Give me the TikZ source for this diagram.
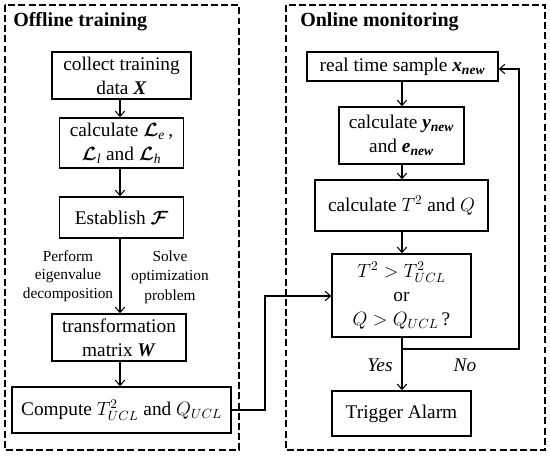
\documentclass[tikz,border=0pt]{standalone}
\usepackage{amsmath,bm}
\usepackage{fontspec}
\setmainfont{Liberation Serif}
\usetikzlibrary{arrows.meta}
\newcommand{\bi}[1]{\textbf{\textit{#1}}}
\begin{document}
\begin{tikzpicture}[x=0.75pt,y=-0.75pt,
  box/.style={draw,line width=1.1pt,align=center,inner sep=0pt,font=\fontsize{14.5}{18}\selectfont},
  frame/.style={draw,line width=2pt,dash pattern=on 5.2pt off 2.4pt},
  conn/.style={line width=0.8pt,-{Straight Barb[length=4pt,width=7pt]}},
  lbl/.style={font=\fontsize{11.5}{14}\selectfont,align=center,inner sep=0pt},
  title/.style={font=\fontsize{15}{18}\selectfont\bfseries,anchor=west,inner sep=0pt}]
\useasboundingbox (0,0) rectangle (550,456);
% frames
\draw[frame] (5,5) rectangle (239,450);
\draw[frame] (286,5) rectangle (545,450);
\node[title] (t1) at (13,22) {Offline training};
\node[title] (t2) at (300,22) {Online monitoring};
% left column
\node[box,minimum width=139*0.75pt,minimum height=47*0.75pt] (b1) at (121.5,75.5) {collect training\\data \bi{X}};
\node[box,minimum width=124*0.75pt,minimum height=50*0.75pt] (b2) at (121.5,143) {calculate $\bm{\mathcal{L}}_{\textit{e}}$\,,\\$\bm{\mathcal{L}}_{\textit{l}}$ and $\bm{\mathcal{L}}_{\textit{h}}$};
\node[box,minimum width=124*0.75pt,minimum height=41*0.75pt] (b3) at (121.5,217.5) {Establish $\bm{\mathcal{F}}$};
\node[box,minimum width=134*0.75pt,minimum height=47*0.75pt] (b4) at (119,337.5) {transformation\\matrix \bi{W}};
\node[box,minimum width=219*0.75pt,minimum height=46*0.75pt] (b5) at (121.5,410) {Compute $T^{2}_{UCL}$\ and $Q_{UCL}$};
\node[lbl] (l1) at (68,276) {Perform\\eigenvalue\\decomposition};
\node[lbl] (l2) at (170,277) {Solve\\optimization\\[1pt]problem};
\draw[conn] (b1.south -| 120,0) -- (b2.north -| 120,0);
\draw[conn] (b2.south -| 120,0) -- (b3.north -| 120,0);
\draw[conn] (b3.south -| 120,0) -- (b4.north -| 120,0);
\draw[conn] (b4.south -| 120,0) -- (b5.north -| 120,0);
% right column
\node[box,minimum width=191*0.75pt,minimum height=29*0.75pt] (r1) at (402.5,66.5) {real time sample \bi{x}$_{\bi{new}}$};
\node[box,minimum width=125*0.75pt,minimum height=57*0.75pt] (r2) at (401.5,135.5) {calculate \bi{y}$_{\bi{new}}$\\and \bi{e}$_{\bi{new}}$};
\node[box,minimum width=173*0.75pt,minimum height=51*0.75pt] (r3) at (401.5,205.5) {calculate $T^2$ and $Q$};
\node[box,minimum width=139*0.75pt,minimum height=83*0.75pt] (r4) at (401.5,295.5) {$T^2>T^2_{UCL}$\\or\\$Q>Q_{UCL}$\,?};
\node[box,minimum width=139*0.75pt,minimum height=45*0.75pt] (r5) at (401.5,413.5) {Trigger Alarm};
\draw[conn] (r1.south -| 402,0) -- (r2.north -| 402,0);
\draw[conn] (r2.south -| 402,0) -- (r3.north -| 402,0);
\draw[conn] (r3.south -| 402,0) -- (r4.north -| 402,0);
\draw[conn] (r4.south -| 402,0) -- (r5.north -| 402,0);
\coordinate (fb) at (402,349);
\draw[conn] (fb) -- (519,349) -- (519,69) -- (r1.east |- 0,69);
\node[lbl,font=\fontsize{14.5}{18}\selectfont\itshape] (yes) at (380,365) {Yes};
\node[lbl,font=\fontsize{14.5}{18}\selectfont\itshape] (no) at (465,365) {No};
% cross connector
\draw[conn] (b5.east) -- (265,410) -- (265,296) -- (r4.west |- 0,296);
\end{tikzpicture}
\end{document}
